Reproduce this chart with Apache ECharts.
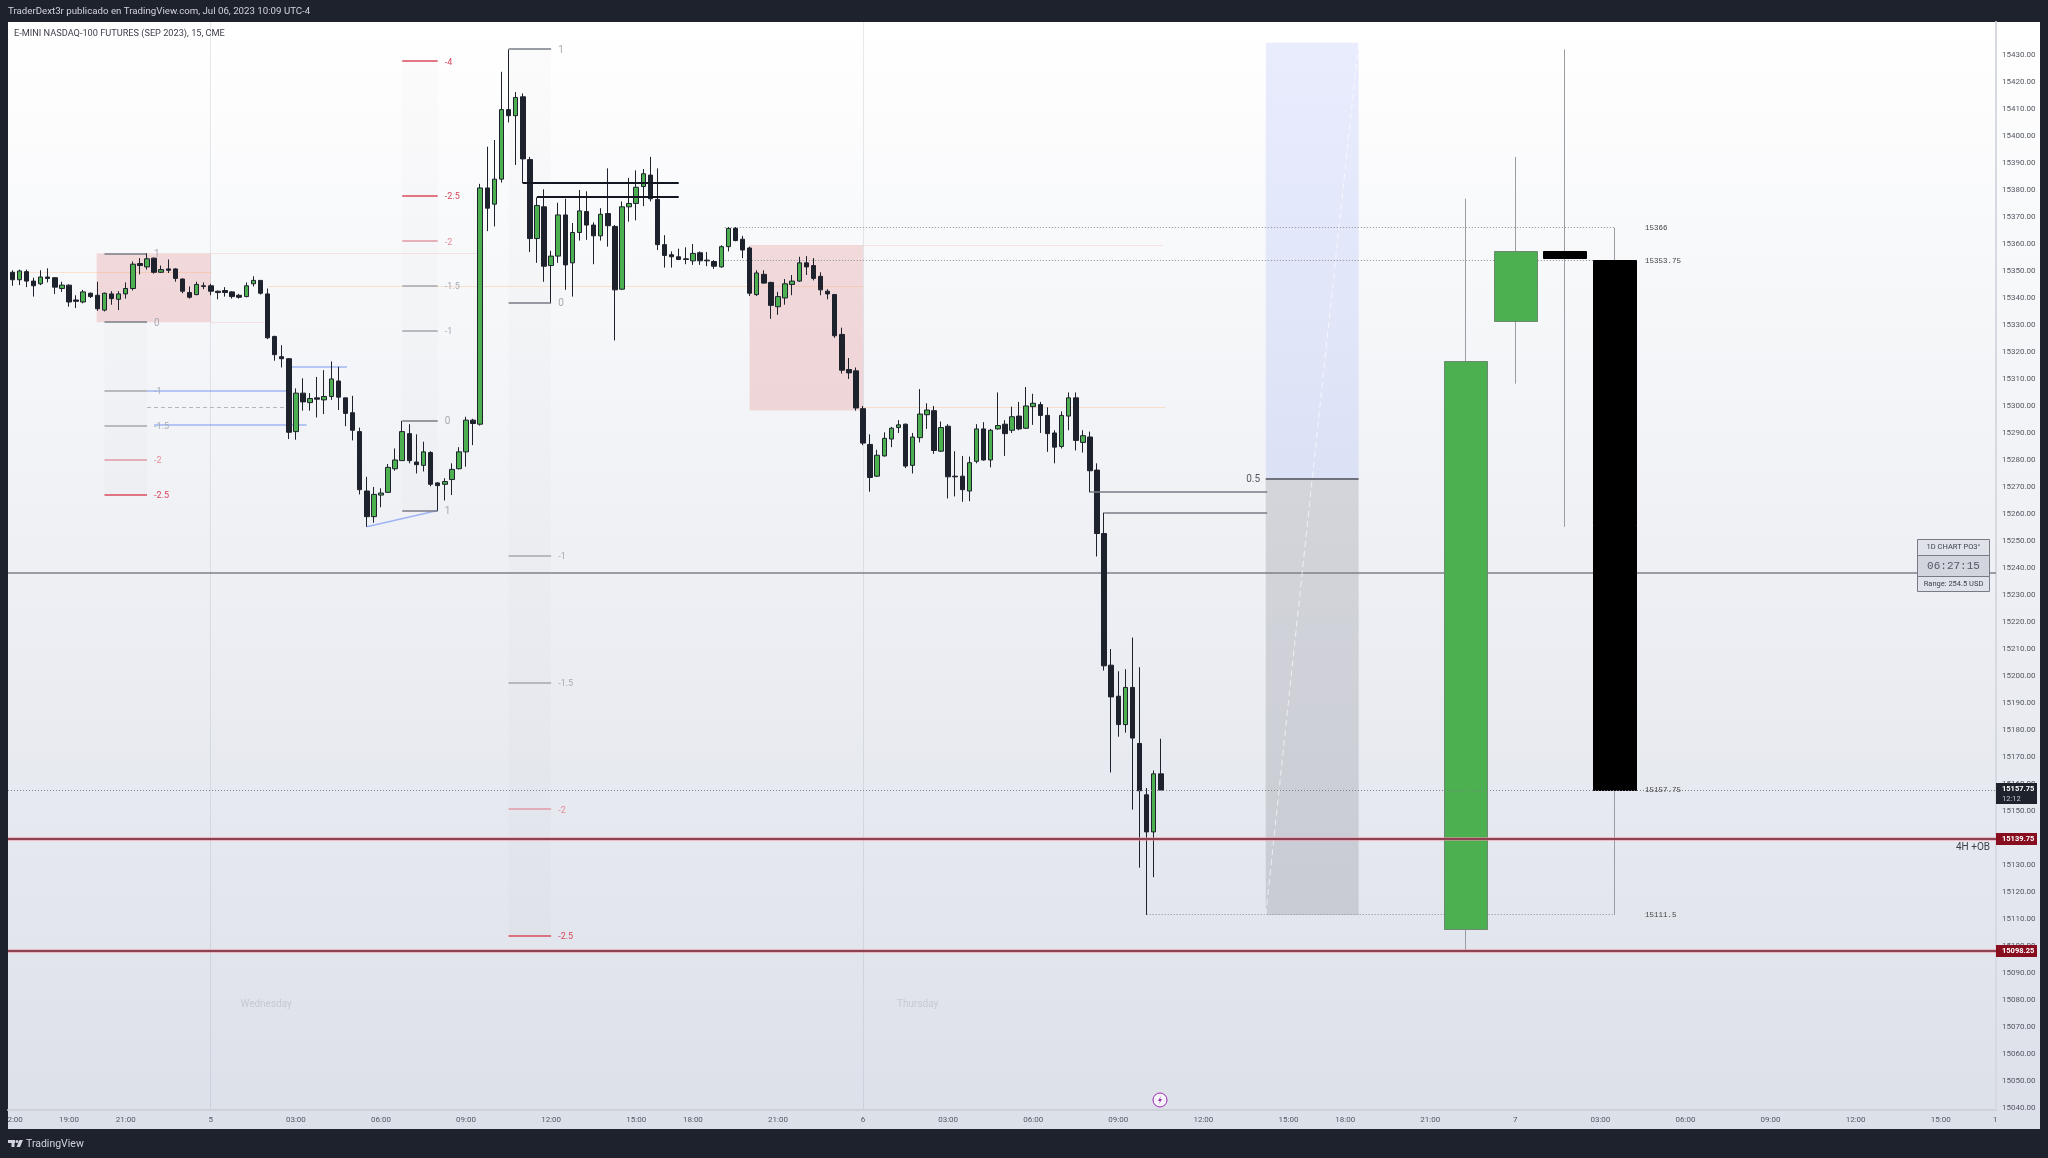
<!DOCTYPE html>
<html>
<head>
<meta charset="utf-8">
<title>E-MINI NASDAQ-100 FUTURES (SEP 2023), 15, CME</title>
<style>
  html, body { margin: 0; padding: 0; background: #1e222d; }
  #chart { width: 2048px; height: 1158px; }
</style>
<script src="https://cdn.jsdelivr.net/npm/echarts@6/dist/echarts.min.js"></script>
</head>
<body>
<div id="chart"></div>
<script>
// velas de 15 minutos, indice 0 = primera vela visible
const opens = [
  15349.5,15346.75,15349.75,15346.25,15345.25,15347.75,15347.5,15343.5,15344.75,15339.25,
  15338.5,15341.75,15341,15335.5,15341.5,15339.5,15341.5,15343.5,15352.75,15351.5,
  15354.75,15349.5,15350.75,15350.75,15347,15342,15341.25,15344.5,15344.5,15342.5,
  15342.75,15342.25,15341,15340.5,15345.25,15346.5,15341.5,15325.75,15318.25,15317.5,
  15290.5,15304.75,15301.25,15303,15302.25,15303.5,15309.25,15303,15297.5,15290.5,
  15268.5,15259,15267,15268,15276.75,15279.75,15289.75,15279.25,15278,15282.75,
  15271.5,15271,15272.75,15276.75,15283,15294.75,15293.25,15380.75,15374.75,15384,
  15409.75,15407.5,15414.5,15391.25,15362,15373.75,15352,15355.5,15370.75,15353,
  15364.25,15372,15367,15363,15371.25,15366.5,15343.25,15373.75,15375,15381.25,
  15385.5,15376.5,15359.75,15356,15355.25,15354.5,15353.75,15356.75,15354,15353.5,
  15351.5,15359,15365.75,15361.75,15358.5,15341.25,15348.75,15345.75,15336.75,15340,
  15345,15346.25,15353,15352,15348,15342.5,15341.25,15326.5,15313.5,15313,
  15299,15285.75,15274,15281.5,15287.75,15292,15293.25,15278,15288.25,15296.75,
  15298.25,15283.25,15292.5,15274,15274,15268.5,15279.5,15291.5,15280,15291.5,
  15293.25,15291,15296.25,15291.75,15299.75,15300.5,15296.5,15290,15285,15296.25,
  15303,15286.5,15288.5,15276.25,15252.75,15204,15192.5,15182,15195.75,15175,15156,15142.25,15163.75
];
const closes = [
  15346.75,15350,15346.25,15344.5,15347.75,15347.25,15344,15344.75,15338.5,15338.75,
  15342.25,15340.5,15336,15341.75,15339.75,15341.5,15343.5,15352.5,15352,15354.5,
  15349.5,15350.5,15350.25,15347.25,15342.5,15340.25,15345,15344.25,15342.5,15342,
  15342,15340.5,15340.25,15344.5,15346.5,15341.75,15325.25,15319,15317.5,15290.25,
  15304.75,15301.5,15302.75,15302.5,15303.5,15310,15303.25,15297.25,15291,15269,
  15259,15267.25,15267.75,15277.25,15280,15290.5,15279.75,15278.25,15283,15271,
  15270.5,15272,15276.5,15283,15294.75,15293.5,15380.75,15373.25,15384,15409.75,
  15407.5,15414.25,15391.5,15362,15374.25,15351.75,15355.5,15370.75,15352.25,15364.25,
  15372.25,15367,15363,15371,15366.75,15343,15373.75,15375,15381,15386,
  15376.75,15359.75,15355.75,15355.25,15354.25,15354.25,15356.5,15353.75,15353.75,15351.75,
  15359,15365.75,15361.25,15357.75,15341.75,15349.25,15345.5,15337.25,15340.5,15345.25,
  15346.25,15353,15351.5,15347.25,15343,15341.5,15326,15313.25,15312.25,15299.25,
  15286.25,15273.5,15281.75,15288,15291.75,15293,15277.75,15288.5,15297,15298.5,
  15283.5,15292,15273.75,15273.75,15269,15279,15291.5,15280,15291,15292.75,
  15289.75,15296,15291.5,15300,15301,15296.5,15289.75,15284.75,15296.5,15303,
  15287.25,15289,15276,15252.75,15203.75,15192.25,15182,15195.75,15177,15157.5,15142.25,15163.75,15157.75
];
const highs = [
  15350.25,15350.5,15350.5,15347.5,15350.25,15351,15347.75,15346,15345,15341,
  15343,15342,15346,15342,15342.5,15342.5,15345.75,15353.5,15354.75,15356.5,
  15355,15352,15354.25,15351,15347.25,15344.25,15346,15345.75,15345.25,15342.75,
  15344,15342.5,15341.5,15345.75,15348,15346.5,15343.5,15326,15322.5,15317.75,
  15306.5,15310.25,15304.75,15310.75,15313.25,15316.5,15314.5,15303,15303.75,15292,
  15273.75,15270,15269.5,15278.5,15284.25,15294.5,15293.25,15289.5,15286.75,15283.25,
  15271.75,15273.25,15278.75,15284.75,15296,15295.25,15382.25,15396,15398.5,15423.75,
  15432,15416.25,15415.75,15392.25,15377.25,15380.25,15357.5,15375.25,15376.75,15367.75,
  15380,15379.5,15368,15373.25,15388,15367,15375.75,15384.5,15387.25,15387.75,
  15392.25,15388,15363.25,15357.25,15358.25,15358.75,15360,15357.25,15357,15354,
  15359.5,15366.25,15366.25,15363,15359,15350.25,15350.25,15346,15342.25,15347,
  15348.5,15355.25,15355.5,15354.75,15349.5,15343.25,15341.5,15329,15317.75,15314.25,
  15300,15289.5,15283.75,15290.25,15292.25,15294.75,15293.5,15290,15306.25,15301,
  15300,15294.25,15293.25,15283.25,15281.5,15281.25,15293.25,15294,15291.5,15305,
  15294.75,15299.75,15301.5,15307,15304.5,15301.5,15299.5,15291,15298,15305,
  15305,15291,15290.5,15278.75,15260.5,15210,15201.75,15202.5,15214.25,15203.25,15158.5,15165,15176.75
];
const lows = [
  15344.5,15344.75,15344,15340.5,15344.75,15345.75,15341.5,15342.25,15336.75,15336.25,
  15338,15340,15335.25,15335,15337.5,15335.5,15339.75,15342.75,15348.75,15350.5,
  15349,15349.25,15349.25,15346,15341.75,15339.75,15341,15343.25,15341,15339.5,
  15340.5,15339.75,15339.75,15340.25,15344.25,15341.25,15324.75,15316.75,15314.25,15287.75,
  15287.5,15298.25,15298.25,15295.75,15297,15302.25,15298.5,15292.5,15287.25,15267.25,
  15255.25,15256.75,15262.5,15267.75,15276,15279.75,15278.75,15275,15275.75,15270.25,
  15261.25,15265,15267,15276.5,15277.5,15285.5,15292.75,15364.75,15366.5,15382.75,
  15405,15389.25,15382.5,15357,15353,15346,15338.25,15353,15343,15340.5,
  15361.25,15361.5,15352.5,15361.25,15359,15324.25,15343,15368.25,15368.75,15374,
  15375.75,15357.75,15351.25,15351.25,15354,15352.5,15352.25,15352.25,15351.75,15350.75,
  15351.25,15357.25,15361,15354.75,15340.75,15340.75,15345.25,15332.25,15333.75,15337.5,
  15341,15346,15348.5,15346.5,15341,15339.5,15325.25,15312,15310,15298.25,
  15285.5,15268.25,15273.75,15281.25,15284.75,15290,15277,15275,15286.5,15291.5,
  15282.25,15283,15265.75,15266.5,15264.5,15264.75,15278.75,15279.75,15277.25,15291.25,
  15281.5,15290,15291,15291.5,15293,15290,15283,15278.75,15284.25,15291,
  15283.5,15282.75,15268,15244.25,15202,15164.25,15177.5,15179,15150.5,15129,15111.5,15125.5,15157.75
];

// velas grandes del indicador PO3 (diario)
const po3Bars = [205, 212, 219, 226];
const po3Open = [15106, 15331.25, 15357.25, 15354];
const po3Close = [15316.5, 15357.25, 15354.5, 15157.75];
const po3Low = [15098.5, 15308.25, 15255.25, 15111.5];
const po3High = [15376.75, 15392.25, 15432, 15366];

const priceTicks = [15040,15050,15060,15070,15080,15090,15100,15110,15120,15130,15140,15150,15160,15170,
  15180,15190,15200,15210,15220,15230,15240,15250,15260,15270,15280,15290,15300,15310,15320,15330,15340,
  15350,15360,15370,15380,15390,15400,15410,15420,15430];
const timeTickBars = [0.4,8,16,28,40,52,64,76,88,96,108,120,132,144,156,168,180,188,200,212,224,236,248,260,272,279.7];
const timeTickLabels = ['2:00','19:00','21:00','5','03:00','06:00','09:00','12:00','15:00','18:00','21:00','6','03:00',
  '06:00','09:00','12:00','15:00','18:00','21:00','7','03:00','06:00','09:00','12:00','15:00','1'];

// niveles horizontales, rangos [barra1, precio1, barra2, precio2]
const priceMin = 15039.26, priceMax = 15442.2;
const barMin = -0.606, barMax = 279.8;
const lastPrice = 15157.75;
const obTop = 15139.75, obBottom = 15098.25;
const sessionBars = [28, 120];

const orderBlocks = [[11.9, 15331, 28, 15356.55], [104, 15298.3, 120, 15359.6]];
const fibColumns = [[13, 15267.3, 19, 15331], [55, 15261.2, 60, 15427.65], [70, 15103.8, 76, 15432.1]];
const pinkExtensions = [[28, 15356.55, 66, 15356.55], [28, 15331, 36, 15331], [120, 15359.6, 162.3, 15359.6]];
const orangeLevels = [[0, 15349.6, 28, 15349.6], [36, 15344.4, 120, 15344.4], [120, 15299.4, 162.7, 15299.4]];
const blueLines = [[19, 15305.5, 39, 15305.5], [20, 15292.8, 41.5, 15292.8], [39, 15314.6, 47.2, 15314.6], [50, 15255.25, 60, 15261.25]];
const dashedLevels = [[19, 15299.3, 38.5, 15299.3]];
const blackLevels = [[72, 15382.6, 94, 15382.6], [74, 15377.3, 94, 15377.3]];
const grayLevels = [[152, 15268, 177, 15268], [154, 15260.4, 177, 15260.4]];
const midLine = [[176.8, 15273, 189.9, 15273]];
const dotLevels = [[100.5, 15366, 226, 15366], [100.5, 15354, 224, 15354], [160, 15111.5, 226, 15111.5]];
const diagonal = [[176.8, 15111.5, 189.9, 15434.5]];
const pdPremium = [[176.8, 15273, 189.9, 15434.55]];
const pdDiscount = [[176.8, 15111.5, 189.9, 15273]];
const rangeLine = [[barMin, 15238, barMax, 15238]];

// retrocesos fib: [barra1, barra2, precio, texto]
const fibGray = [[13,19,15356.45],[13,19,15331],[55,60,15294.45],[55,60,15261.2],[70,76,15432.1],[70,76,15338.25]];
const fibMid = [[13,19,15305.45],[13,19,15292.7],[55,60,15327.8],[55,60,15344.6],[70,76,15244.6],[70,76,15197.5]];
const fibPink = [[13,19,15279.9],[55,60,15361],[70,76,15150.6]];
const fibRed = [[13,19,15267.2],[55,60,15377.8],[55,60,15427.65],[70,76,15103.8]];
const fibGrayText = [[20,15356.45,'1'],[20,15331,'0'],[61,15294.45,'0'],[61,15261.2,'1'],[77,15432.1,'1'],[77,15338.25,'0']];
const fibMidText = [[20,15305.45,'-1'],[20,15292.7,'-1.5'],[61,15327.8,'-1'],[61,15344.6,'-1.5'],[77,15244.6,'-1'],[77,15197.5,'-1.5']];
const fibPinkText = [[20,15279.9,'-2'],[61,15361,'-2'],[77,15150.6,'-2']];
const fibRedText = [[20,15267.2,'-2.5'],[61,15377.8,'-2.5'],[61,15427.65,'-4'],[77,15103.8,'-2.5']];
const po3Text = [[230.3,15366,'15366'],[230.3,15353.75,'15353.75'],[230.3,15157.75,'15157.75'],[230.3,15111.5,'15111.5']];
const weekdayText = [[35.8,15078.7,'Wednesday'],[127.7,15078.7,'Thursday']];
const midText = [[176,15273,'0.5']];

const UI = 'Roboto, sans-serif';
const chart = echarts.init(document.getElementById('chart'), null, { renderer: 'canvas' });
const grad = (a, b) => new echarts.graphic.LinearGradient(0, 0, 0, 1, [{ offset: 0, color: a }, { offset: 1, color: b }]);
const crisp = (v, w) => (Math.round(w) % 2 ? Math.floor(v) + 0.5 : Math.round(v));

function segments(rows, style, z) {
  return {
    type: 'custom', z, silent: true, data: rows, encode: { x: [0, 2], y: [1, 3] },
    renderItem: (p, api) => {
      const a = api.coord([api.value(0), api.value(1)]), b = api.coord([api.value(2), api.value(3)]);
      const w = style.lineWidth || 1;
      if (a[1] === b[1]) a[1] = b[1] = crisp(a[1], w);
      if (a[0] === b[0]) a[0] = b[0] = crisp(a[0], w);
      return { type: 'line', shape: { x1: a[0], y1: a[1], x2: b[0], y2: b[1] }, style: { fill: null, ...style } };
    },
  };
}
function boxes(rows, fill, z) {
  return {
    type: 'custom', z, silent: true, data: rows, encode: { x: [0, 2], y: [1, 3] },
    renderItem: (p, api) => {
      const a = api.coord([api.value(0), api.value(1)]), b = api.coord([api.value(2), api.value(3)]);
      return { type: 'rect', shape: { x: a[0], y: b[1], width: b[0] - a[0], height: a[1] - b[1] }, style: { fill } };
    },
  };
}
function labels(rows, color, font, align, z, dy = 1) {
  return {
    type: 'custom', z, silent: true, data: rows.map(r => [r[0], r[1]]), encode: { x: 0, y: 1 },
    renderItem: (p, api) => {
      const a = api.coord([api.value(0), api.value(1)]);
      return { type: 'text', x: a[0], y: a[1] + dy, style: { text: rows[p.dataIndex][2], fill: color, font, align: align, verticalAlign: 'middle' } };
    },
  };
}
const fibLine = rows => rows.map(r => [r[0], r[2], r[1], r[2]]);
const span = p => [barMin, p, barMax, p];

const candles = opens.map((o, i) => [i, o, closes[i], lows[i], highs[i]]);

const po3Series = {
  type: 'custom', z: 4, silent: true, encode: { x: 0, y: [1, 2, 3, 4] },
  data: po3Bars.map((b, i) => [b, po3Open[i], po3Close[i], po3Low[i], po3High[i]]),
  renderItem: (p, api) => {
    const x = api.value(0), o = api.value(1), c = api.value(2);
    const cx = crisp(api.coord([x, o])[0], 1);
    const half = api.size([6.1, 0])[0] / 2;
    const top = api.coord([x, Math.max(o, c)])[1], bot = api.coord([x, Math.min(o, c)])[1];
    const up = c > o;
    return {
      type: 'group',
      children: [
        { type: 'line', shape: { x1: cx, y1: api.coord([x, api.value(4)])[1], x2: cx, y2: api.coord([x, api.value(3)])[1] }, style: { stroke: '#9a9da3', lineWidth: 1 } },
        { type: 'rect', shape: { x: Math.round(cx - half) + 0.5, y: Math.round(top) + 0.5, width: Math.round(half * 2), height: Math.round(bot - top) },
          style: { fill: up ? '#4caf50' : '#000', stroke: up ? '#6d8a70' : '#000', lineWidth: 1 } },
      ],
    };
  },
};

const tagSeries = {
  type: 'custom', z: 12, silent: true, data: [[barMax, obTop], [barMax, obBottom]], encode: { x: 0, y: 1 },
  renderItem: (p, api) => {
    const a = api.coord([api.value(0), api.value(1)]);
    return {
      type: 'group',
      children: [
        { type: 'rect', shape: { x: a[0], y: Math.round(a[1]) - 6, width: 41, height: 12 }, style: { fill: '#880e1f' } },
        { type: 'text', x: a[0] + 6, y: a[1], style: { text: api.value(1).toFixed(2), fill: '#fff', font: 'bold 7.5px ' + UI, verticalAlign: 'middle' } },
      ],
    };
  },
};
const lastTagSeries = {
  type: 'custom', z: 12, silent: true, data: [[barMax, lastPrice]], encode: { x: 0, y: 1 },
  renderItem: (p, api) => {
    const a = api.coord([api.value(0), api.value(1)]);
    return {
      type: 'group',
      children: [
        { type: 'rect', shape: { x: a[0], y: Math.round(a[1]) - 7, width: 41, height: 21 }, style: { fill: '#1e222d' } },
        { type: 'text', x: a[0] + 6, y: a[1] - 0.5, style: { text: api.value(1).toFixed(2), fill: '#fff', font: 'bold 7.5px ' + UI, verticalAlign: 'middle' } },
        { type: 'text', x: a[0] + 6, y: a[1] + 9, style: { text: '12:12', fill: '#c8cbd4', font: '7.5px ' + UI, verticalAlign: 'middle' } },
      ],
    };
  },
};

chart.setOption({
  animation: false,
  backgroundColor: '#1e222d',
  grid: { left: 8, top: 22, width: 1988, height: 1088 },
  xAxis: {
    type: 'value', min: barMin, max: barMax, z: 1,
    axisLine: { show: true, onZero: false, lineStyle: { color: '#ced1d9', width: 2 } },
    axisTick: { show: false },
    splitLine: { show: false },
    axisLabel: {
      margin: 6, color: '#555862', fontFamily: UI, fontSize: 8,
      customValues: timeTickBars,
      formatter: v => timeTickLabels[timeTickBars.indexOf(v)] ?? '',
    },
  },
  yAxis: {
    type: 'value', position: 'right', min: priceMin, max: priceMax, z: 1,
    axisLine: { show: true, onZero: false, lineStyle: { color: '#d6d9e0', width: 2 } },
    axisTick: { show: false },
    splitLine: { show: false },
    axisLabel: {
      margin: 6, color: '#555862', fontFamily: UI, fontSize: 8,
      customValues: priceTicks,
      formatter: v => v.toFixed(2),
    },
  },
  series: [
    segments(sessionBars.map(b => [b, priceMin, b, priceMax]), { stroke: 'rgba(120,123,134,0.16)', lineWidth: 1 }, 1),
    boxes(orderBlocks, 'rgba(222,90,90,0.2)', 1),
    boxes(fibColumns, 'rgba(120,123,134,0.025)', 1),
    boxes(pdPremium, 'rgba(70,110,245,0.12)', 1),
    boxes(pdDiscount, 'rgba(120,123,134,0.24)', 1),
    segments(pinkExtensions, { stroke: 'rgba(242,120,120,0.18)', lineWidth: 1 }, 1),
    segments(orangeLevels, { stroke: 'rgba(250,165,90,0.28)', lineWidth: 1 }, 1),
    segments(dashedLevels, { stroke: '#b4b6bb', lineWidth: 1, lineDash: [4, 3] }, 1),
    segments(blueLines, { stroke: 'rgba(80,120,240,0.5)', lineWidth: 1.5 }, 1),
    segments(dotLevels, { stroke: '#8a8d93', lineWidth: 1, lineDash: [1, 2] }, 2),
    segments(rangeLine, { stroke: '#7d808a', lineWidth: 1.5 }, 2),
    segments(fibLine(fibGray), { stroke: '#787b86', lineWidth: 1.5 }, 2),
    segments(fibLine(fibMid), { stroke: '#a4a7ad', lineWidth: 1.5 }, 2),
    segments(fibLine(fibPink), { stroke: '#e29aa6', lineWidth: 1.5 }, 2),
    segments(fibLine(fibRed), { stroke: '#da4a5c', lineWidth: 1.5 }, 2),
    labels(fibGrayText, '#a8abb2', '10px ' + UI, 'left', 2),
    labels(fibMidText, '#a8abb2', '9px ' + UI, 'left', 2),
    labels(fibPinkText, '#e48a99', '9px ' + UI, 'left', 2),
    labels(fibRedText, '#d8475b', '9px ' + UI, 'left', 2),
    labels(weekdayText, '#c6c9d1', '10px ' + UI, 'center', 2),
    {
      type: 'candlestick', z: 3, silent: true, barWidth: 5, data: candles,
      encode: { x: 0, y: [1, 2, 3, 4] },
      itemStyle: { color: '#4caf50', color0: '#1e222d', borderColor: '#1e222d', borderColor0: '#1e222d', borderWidth: 1 },
    },
    po3Series,
    segments(grayLevels, { stroke: '#787b86', lineWidth: 1.5 }, 4),
    segments(midLine, { stroke: '#6f727c', lineWidth: 2 }, 4),
    segments(diagonal, { stroke: 'rgba(255,255,255,0.65)', lineWidth: 1, lineDash: [6, 4] }, 4),
    segments(blackLevels, { stroke: '#131722', lineWidth: 2 }, 5),
    segments([span(obTop), span(obBottom)], { stroke: 'rgba(235,150,165,0.55)', lineWidth: 4 }, 5),
    segments([span(obTop), span(obBottom)], { stroke: '#8d4152', lineWidth: 2 }, 5),
    segments([span(lastPrice)], { stroke: '#7d8087', lineWidth: 1, lineDash: [1, 2] }, 5),
    labels(po3Text, '#444', '7.5px "Liberation Mono", monospace', 'left', 6, 0),
    labels(midText, '#555862', '10px ' + UI, 'right', 6),
    tagSeries,
    lastTagSeries,
  ],
  graphic: [
    { type: 'rect', z: -10, shape: { x: 8, y: 22, width: 2032, height: 1107 }, style: { fill: grad('#ffffff', '#dce0e9') } },
    { type: 'text', z: 20, x: 8, y: 12, style: { text: 'TraderDext3r publicado en TradingView.com, Jul 06, 2023 10:09 UTC-4', fill: '#d1d4dc', font: '9.7px ' + UI, verticalAlign: 'middle' } },
    { type: 'text', z: 20, x: 14, y: 34, style: { text: 'E-MINI NASDAQ-100 FUTURES (SEP 2023), 15, CME', fill: '#3e414b', font: '9.2px ' + UI, verticalAlign: 'middle' } },
    { type: 'text', z: 20, x: 1990, y: 847, style: { text: '4H +OB', fill: '#3e414b', font: '10px ' + UI, align: 'right', verticalAlign: 'middle' } },
    // tabla 1D CHART PO3
    { type: 'rect', z: 20, shape: { x: 1917.5, y: 539.5, width: 72, height: 16 }, style: { fill: '#dfe2e9', stroke: '#787b86', lineWidth: 1 } },
    { type: 'rect', z: 20, shape: { x: 1917.5, y: 555.5, width: 72, height: 21 }, style: { fill: '#d2d5de', stroke: '#787b86', lineWidth: 1 } },
    { type: 'rect', z: 20, shape: { x: 1917.5, y: 576.5, width: 72, height: 15 }, style: { fill: '#dfe2e9', stroke: '#787b86', lineWidth: 1 } },
    { type: 'text', z: 21, x: 1953.5, y: 547.5, style: { text: '1D CHART PO3°', fill: '#3e414b', font: '7.5px ' + UI, align: 'center', verticalAlign: 'middle' } },
    { type: 'text', z: 21, x: 1953.5, y: 566, style: { text: '06:27:15', fill: '#555862', font: '11px "Liberation Mono", monospace', align: 'center', verticalAlign: 'middle' } },
    { type: 'text', z: 21, x: 1953.5, y: 584.5, style: { text: 'Range: 254.5 USD', fill: '#3e414b', font: '7.5px ' + UI, align: 'center', verticalAlign: 'middle' } },
    // icono del rayo
    { type: 'circle', z: 20, shape: { cx: 1160, cy: 1100, r: 7 }, style: { fill: '#f4f5f8', stroke: '#9c27b0', lineWidth: 1 } },
    { type: 'polygon', z: 21, shape: { points: [[1161, 1096], [1158, 1101], [1160, 1101], [1159, 1104], [1162, 1099], [1160, 1099]] }, style: { fill: '#9c27b0' } },
    // logo
    { type: 'rect', z: 20, shape: { x: 8, y: 1140, width: 7, height: 3 }, style: { fill: '#d1d4dc' } },
    { type: 'rect', z: 20, shape: { x: 11.5, y: 1140, width: 3, height: 7 }, style: { fill: '#d1d4dc' } },
    { type: 'circle', z: 20, shape: { cx: 17, cy: 1141.5, r: 1.5 }, style: { fill: '#d1d4dc' } },
    { type: 'polygon', z: 20, shape: { points: [[19.5, 1140], [23, 1140], [20, 1147], [16.5, 1147]] }, style: { fill: '#d1d4dc' } },
    { type: 'text', z: 20, x: 26, y: 1144, style: { text: 'TradingView', fill: '#d1d4dc', font: '10.5px ' + UI, verticalAlign: 'middle' } },
  ],
});
</script>
</body>
</html>
